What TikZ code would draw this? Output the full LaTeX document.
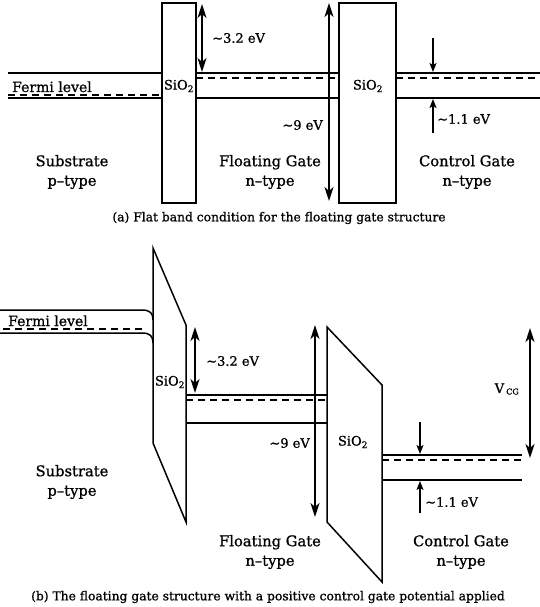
\documentclass[tikz,border=0pt]{standalone}
\usepackage{fontspec}
\setmainfont{DejaVu Serif}[BoldFont={DejaVu Serif}, BoldFeatures={FakeBold=1.0}]
\usetikzlibrary{arrows.meta}
\begin{document}
\begin{tikzpicture}[x=1pt,y=-1pt,
  band/.style={line width=1.5pt},
  fermi/.style={line width=1.2pt, dash pattern=on 7pt off 5pt},
  oxide/.style={line width=1.5pt, line join=miter},
  dbl/.style={line width=1.8pt, {Stealth[length=14pt,width=9pt,inset=4pt]}-{Stealth[length=14pt,width=9pt,inset=4pt]}},
  sgl/.style={line width=1.3pt, -{Stealth[length=9pt,width=7pt,inset=2pt]}},
  lbl/.style={font=\bfseries\fontsize{13}{15}\selectfont, inner sep=0pt},
  fermitext/.style={font=\bfseries\fontsize{14}{15}\selectfont, inner sep=0pt},
  region/.style={font=\bfseries\fontsize{14.7}{19.5}\selectfont, align=center, inner sep=0pt},
  captext/.style={font=\bfseries\fontsize{12.3}{14}\selectfont, inner sep=0pt}]
\useasboundingbox (0,0) rectangle (540,607);

% ---------------- (a) ----------------
\draw[oxide] (162,3) rectangle (196,203);
\draw[oxide] (339,3) rectangle (396,203);
\draw[band] (8,73) -- (162,73);
\draw[band] (8,98) -- (162,98);
\draw[fermi] (8,95) -- (162,95);
\draw[band] (196,73) -- (339,73);
\draw[band] (196,98) -- (339,98);
\draw[fermi] (196,78) -- (339,78);
\draw[band] (396,73) -- (540,73);
\draw[band] (396,98) -- (540,98);
\draw[fermi] (396,78) -- (540,78);

\node[fermitext, anchor=base west] (fla) at (12,92) {Fermi level};
\node[lbl] (oxa1) at (179,86) {SiO\textsubscript{2}};
\node[lbl] (oxa2) at (368,86) {SiO\textsubscript{2}};

\coordinate (a32t) at (202,4);
\coordinate (a32b) at (202,72);
\draw[dbl] (a32t) -- (a32b);
\node[lbl, anchor=west] (l32a) at (212,38) {\textasciitilde3.2 eV};

\coordinate (a9t) at (329,3);
\coordinate (a9b) at (329,201);
\draw[dbl] (a9t) -- (a9b);
\node[lbl, anchor=east] (l9a) at (323,125) {\textasciitilde9 eV};

\coordinate (a11s) at (433,38);
\coordinate (a11e) at (433,72);
\coordinate (a11s2) at (433,133);
\coordinate (a11e2) at (433,99);
\draw[sgl] (a11s) -- (a11e);
\draw[sgl] (a11s2) -- (a11e2);
\node[lbl, anchor=west] (l11a) at (437,119) {\textasciitilde1.1 eV};

\node[region] (suba) at (72,172) {Substrate\\p--type};
\node[region] (fga) at (270,172) {Floating Gate\\n--type};
\node[region] (cga) at (467,172) {Control Gate\\n--type};

\node[captext] (capa) at (279,218) {(a) Flat band condition for the floating gate structure};

% ---------------- (b) ----------------
\draw[band] (0,310) -- (142,310) .. controls (150,310) and (153,313) .. (153,320);
\draw[band] (0,333) -- (142,333) .. controls (150,333) and (153,336) .. (153,343);
\draw[fermi] (3,329) -- (143,329);
\node[fermitext, anchor=base west] (flb) at (8,326) {Fermi level};

\draw[oxide] (153,248) -- (186,325) -- (186,522) -- (153,443) -- cycle;
\draw[oxide] (327,327) -- (382,385) -- (382,582) -- (327,522) -- cycle;

\draw[band] (186,395) -- (327,395);
\draw[band] (186,423) -- (327,423);
\draw[fermi] (186,400) -- (327,400);

\draw[band] (382,455) -- (522,455);
\draw[band] (382,480) -- (522,480);
\draw[fermi] (382,460) -- (522,460);

\node[lbl] (oxb1) at (170,382) {SiO\textsubscript{2}};
\node[lbl] (oxb2) at (353,442) {SiO\textsubscript{2}};

\coordinate (b32t) at (195,327);
\coordinate (b32b) at (195,393);
\draw[dbl] (b32t) -- (b32b);
\node[lbl, anchor=west] (l32b) at (206,361) {\textasciitilde3.2 eV};

\coordinate (b9t) at (315,325);
\coordinate (b9b) at (315,517);
\draw[dbl] (b9t) -- (b9b);
\node[lbl, anchor=east] (l9b) at (310,443) {\textasciitilde9 eV};

\coordinate (b11s) at (420,422);
\coordinate (b11e) at (420,454);
\coordinate (b11s2) at (420,513);
\coordinate (b11e2) at (420,481);
\draw[sgl] (b11s) -- (b11e);
\draw[sgl] (b11s2) -- (b11e2);
\node[lbl, anchor=west] (l11b) at (425,502) {\textasciitilde1.1 eV};

\coordinate (vcct) at (530,328);
\coordinate (vccb) at (530,458);
\draw[dbl] (vcct) -- (vccb);
\node[lbl, anchor=east] (lvcc) at (519,389) {V\,\raisebox{-1.5pt}{\fontsize{8}{8}\selectfont CG}};

\node[region] (subb) at (72,482) {Substrate\\p--type};
\node[region] (fgb) at (270,552) {Floating Gate\\n--type};
\node[region] (cgb) at (461,552) {Control Gate\\n--type};

\node[captext] (capb) at (268,597) {(b) The floating gate structure with a positive control gate potential applied};
\end{tikzpicture}
\end{document}
